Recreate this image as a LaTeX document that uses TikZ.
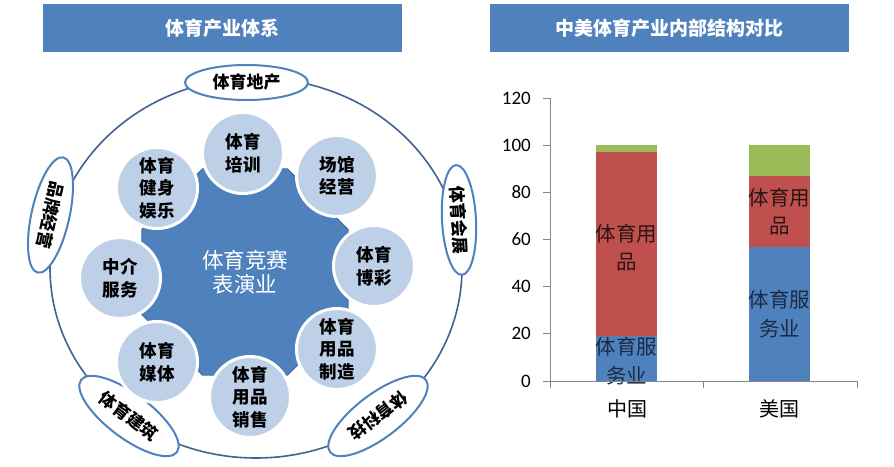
\documentclass[tikz,border=0pt]{standalone}
\usepackage{fontspec}
\setmainfont{Carlito}
\newfontfamily\cjk{Noto Sans CJK SC}
\usetikzlibrary{shapes.geometric}
\definecolor{accblue}{HTML}{4F81BD}
\definecolor{accred}{HTML}{C0504D}
\definecolor{accgreen}{HTML}{9BBB59}
\definecolor{lightblue}{HTML}{BDD0E7}
\definecolor{ringcol}{HTML}{41628F}
\definecolor{octedge}{HTML}{41719C}
\definecolor{axisgray}{HTML}{868686}
\definecolor{bluetxt}{HTML}{1C2A44}
\definecolor{redtxt}{HTML}{2A1515}
\begin{document}
\begin{tikzpicture}[x=1pt,y=-1pt,
  titlebar/.style={fill=accblue, draw=none, text=white, inner sep=0,
    font=\cjk\bfseries\fontsize{19}{23}\selectfont},
  ringshape/.style={ellipse, draw=ringcol, line width=1.6pt, inner sep=0},
  tag/.style={ellipse, draw=accblue, line width=2pt, fill=white, inner sep=0,
    font=\cjk\bfseries\fontsize{17}{20}\selectfont},
  sub/.style={circle, fill=lightblue, draw=white, line width=3pt, minimum size=81,
    inner sep=0, align=center, font=\cjk\bfseries\fontsize{17.5}{22.5}\selectfont},
  core/.style={regular polygon, regular polygon sides=8, minimum size=223,
    fill=accblue, draw=octedge, line width=1pt, inner sep=0, text=white,
    align=center, font=\cjk\fontsize{21.5}{23.5}\selectfont},
  barlbl/.style={align=center, inner sep=0, font=\cjk\fontsize{20.5}{28.5}\selectfont},
  numlbl/.style={anchor=east, inner sep=0, font=\fontsize{19}{22}\selectfont},
  catlbl/.style={inner sep=0, font=\cjk\fontsize{20}{24}\selectfont},
  axisline/.style={draw=axisgray, line width=1pt}
]
\useasboundingbox (0,0) rectangle (894,466);

% ---------- left panel ----------
\node[titlebar, minimum width=359, minimum height=48] (t1) at (222.5,28) {体育产业体系};

\node[ringshape, minimum width=412, minimum height=380] (ring) at (256,268) {};

\node[tag, minimum width=123, minimum height=35] (e1) at (246.5,82.5) {体育地产};
\node[tag, minimum width=118, minimum height=38, rotate=-102.5] (e2) at (50.5,215) {品牌经营};
\node[tag, minimum width=110, minimum height=34, rotate=-87] (e3) at (459,220) {体育会展};
\node[tag, minimum width=120, minimum height=44, rotate=-37] (e4) at (129,416) {体育建筑};
\node[tag, minimum width=120, minimum height=44, rotate=-143] (e5) at (378,416) {体育科技};

\node[core] (core) at (245,272) {体育竞赛\\表演业};

\node[sub] (c1) at (243,153) {体育\\培训};
\node[sub] (c2) at (337,176) {场馆\\经营};
\node[sub] (c3) at (157,188) {体育\\健身\\娱乐};
\node[sub] (c4) at (374,266) {体育\\博彩};
\node[sub] (c5) at (120,278) {中介\\服务};
\node[sub] (c6) at (157,362) {体育\\媒体};
\node[sub] (c7) at (250,397) {体育\\用品\\销售};
\node[sub] (c8) at (337,349) {体育\\用品\\制造};

% ---------- right panel ----------
\node[titlebar, minimum width=359, minimum height=48] (t2) at (669.5,28) {中美体育产业内部结构对比};

% bars (value v -> y = 381 - 2.358 v)
\fill[accblue]  (596,381)   rectangle (657,336.2);
\fill[accred]   (596,336.2) rectangle (657,152.3);
\fill[accgreen] (596,152.3) rectangle (657,145.2);
\fill[accblue]  (749,381)   rectangle (810,246.6);
\fill[accred]   (749,246.6) rectangle (810,175.9);
\fill[accgreen] (749,175.9) rectangle (810,145.2);

\node[barlbl, text=redtxt]  (l1) at (626.5,247.5) {体育用\\品};
\node[barlbl, text=bluetxt] (l2) at (626.5,361)   {体育服\\务业};
\node[barlbl, text=redtxt]  (l3) at (779.5,211.5) {体育用\\品};
\node[barlbl, text=bluetxt] (l4) at (779.5,314)   {体育服\\务业};

% axes
\coordinate (o)  at (550,381);
\coordinate (yt) at (550,98);
\coordinate (xe) at (857,381);
\draw[axisline] (yt) -- (o) -- (xe);
\foreach \v/\yy in {0/381,20/333.8,40/286.7,60/239.5,80/192.4,100/145.2,120/98}{
  \coordinate (tk\v) at (543,\yy);
  \coordinate (ta\v) at (550,\yy);
  \draw[axisline] (tk\v) -- (ta\v);
  \node[numlbl] (n\v) at (531,\yy) {\v};
}
\foreach \xx/\nm in {550/a,703.5/b,857/c}{
  \coordinate (xt\nm) at (\xx,381);
  \coordinate (xb\nm) at (\xx,388);
  \draw[axisline] (xt\nm) -- (xb\nm);
}
\node[catlbl] (k1) at (627,409) {中国};
\node[catlbl] (k2) at (779,409) {美国};
\end{tikzpicture}
\end{document}
